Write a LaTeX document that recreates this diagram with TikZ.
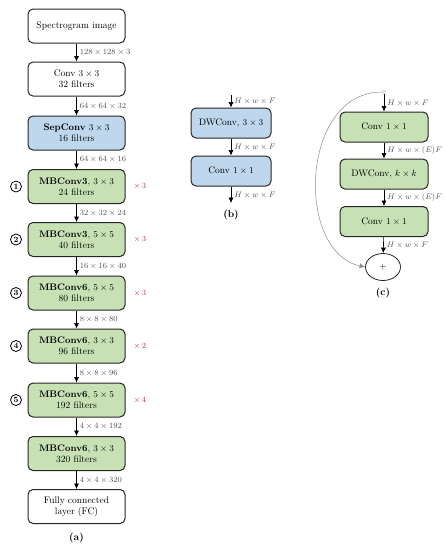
\documentclass[tikz,border=0pt]{standalone}
\usetikzlibrary{arrows.meta,shapes.geometric}
\definecolor{boxgreen}{RGB}{199,225,181}
\definecolor{boxblue}{RGB}{190,215,237}
\definecolor{dimgray}{RGB}{80,80,80}
\definecolor{repred}{RGB}{200,40,55}
\begin{document}
\begin{tikzpicture}[x=1pt,y=-1pt,
  layer/.style={draw=black!85,line width=1pt,rounded corners=5pt,
    minimum width=97pt,minimum height=34pt,align=center,inner sep=2pt,
    font=\fontsize{9.5}{11}\selectfont},
  small/.style={minimum width=80pt,minimum height=30pt},
  wide/.style={minimum width=88pt,minimum height=30pt},
  green/.style={fill=boxgreen},
  blue/.style={fill=boxblue},
  flow/.style={-{Latex[length=5.5pt,width=5pt]},line width=0.6pt},
  dim/.style={anchor=west,xshift=2pt,text=dimgray,inner sep=1pt,
    font=\fontsize{8}{9}\selectfont},
  stage/.style={circle,draw,line width=0.8pt,inner sep=0pt,minimum size=11pt,
    font=\bfseries\fontsize{8}{9}\selectfont},
  rep/.style={text=repred,font=\fontsize{8}{9}\selectfont},
  caption/.style={font=\bfseries\fontsize{10}{12}\selectfont}
]
  \useasboundingbox (0,0) rectangle (445,550);

  % (a) the network
  \node[layer] (spec) at (76.5,26) {Spectrogram image};
  \node[layer] (conv) at (76.5,79) {Conv $3\times3$\\32 filters};
  \node[layer,blue] (sep) at (76.5,133) {\textbf{SepConv} $3\times3$\\16 filters};
  \node[layer,green] (mb1) at (76.5,186.5) {\textbf{MBConv3}, $3\times3$\\24 filters};
  \node[layer,green] (mb2) at (76.5,239.5) {\textbf{MBConv3}, $5\times5$\\40 filters};
  \node[layer,green] (mb3) at (76.5,293) {\textbf{MBConv6}, $5\times5$\\80 filters};
  \node[layer,green] (mb4) at (76.5,346) {\textbf{MBConv6}, $3\times3$\\96 filters};
  \node[layer,green] (mb5) at (76.5,400) {\textbf{MBConv6}, $5\times5$\\192 filters};
  \node[layer,green] (mb6) at (76.5,453.5) {\textbf{MBConv6}, $3\times3$\\320 filters};
  \node[layer] (fc) at (76.5,506.5) {Fully connected\\layer (FC)};
  \node[caption] (capa) at (76.5,538) {(a)};

  \draw[flow] (spec) -- node[dim] {$128\times128\times3$} (conv);
  \draw[flow] (conv) -- node[dim] {$64\times64\times32$} (sep);
  \draw[flow] (sep) -- node[dim] {$64\times64\times16$} (mb1);
  \draw[flow] (mb1) -- node[dim] {$32\times32\times24$} (mb2);
  \draw[flow] (mb2) -- node[dim] {$16\times16\times40$} (mb3);
  \draw[flow] (mb3) -- node[dim] {$8\times8\times80$} (mb4);
  \draw[flow] (mb4) -- node[dim] {$8\times8\times96$} (mb5);
  \draw[flow] (mb5) -- node[dim] {$4\times4\times192$} (mb6);
  \draw[flow] (mb6) -- node[dim] {$4\times4\times320$} (fc);

  \foreach \n/\r/\y in {1/3/186.5,2/3/239.5,3/3/293,4/2/346,5/4/400}{
    \node[stage] (st\n) at (16,\y) {\n};
    \node[rep] (rp\n) at (140,\y) {$\times$\,\r};
  }

  % (b) separable conv
  \coordinate (bin) at (231,95);
  \node[layer,blue,small] (dw) at (231,123) {DWConv, $3\times3$};
  \node[layer,blue,small] (pw) at (231,171) {Conv $1\times1$};
  \coordinate (bout) at (231,203);
  \node[caption] (capb) at (231,215) {(b)};
  \draw[flow] (bin) -- node[dim] {$H\times w\times F$} (dw);
  \draw[flow] (dw) -- node[dim] {$H\times w\times F$} (pw);
  \draw[flow] (pw) -- node[dim] {$H\times w\times F$} (bout);

  % (c) inverted residual block
  \node[circle,draw=black!30,fill=white,inner sep=1.3pt] (src) at (384,92) {};
  \node[layer,green,wide] (ex) at (384,127) {Conv $1\times1$};
  \node[layer,green,wide] (dwk) at (384,174) {DWConv, $k\times k$};
  \node[layer,green,wide] (pr) at (384,221.5) {Conv $1\times1$};
  \node[ellipse,draw=black!85,line width=0.8pt,minimum width=35pt,minimum height=27pt,
    inner sep=0pt,font=\fontsize{9}{10}\selectfont] (add) at (383,267) {$+$};
  \node[caption] (capc) at (383,293) {(c)};
  \draw[flow] (src) -- node[dim] {$H\times w\times F$} (ex);
  \draw[flow] (ex) -- node[dim] {$H\times w\times (E)F$} (dwk);
  \draw[flow] (dwk) -- node[dim] {$H\times w\times (E)F$} (pr);
  \draw[flow] (pr) -- node[dim] {$H\times w\times F$} (add);
  \draw[flow,draw=black!45,line width=0.5pt]
    (src) .. controls (300,92) and (295,252) .. (add.west);
\end{tikzpicture}
\end{document}
